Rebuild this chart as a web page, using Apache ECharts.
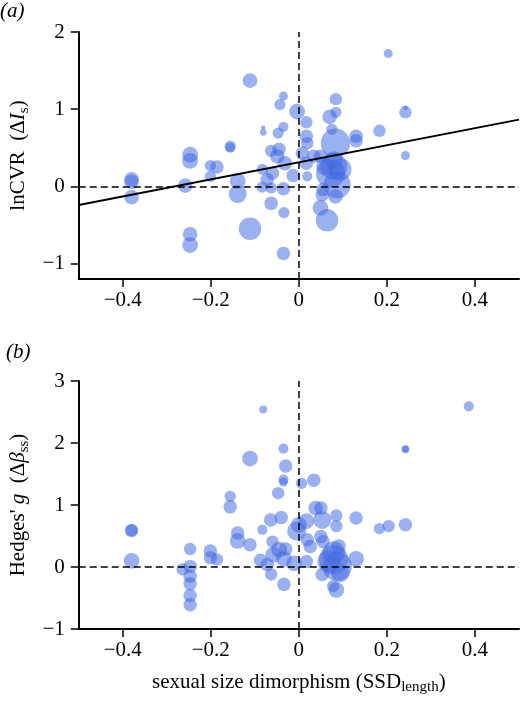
<!DOCTYPE html>
<html><head><meta charset="utf-8">
<script src="https://cdn.jsdelivr.net/npm/echarts@6/dist/echarts.min.js"></script>
<style>html,body{margin:0;padding:0;background:#fff}#c{width:520px;height:702px}</style>
</head><body><div id="c"></div>
<script>
// Panel (a): lnCVR vs SSD
var aX = [0.203,-0.111,-0.035,-0.043,-0.004,0.084,0.084,0.070,0.242,0.242,0.017,-0.035,-0.047,-0.081,-0.081,0.075,0.183,0.083,0.130,0.130,0.242,0.017,0.019,-0.156,-0.156,-0.247,-0.247,-0.201,-0.186,-0.201,-0.063,-0.045,-0.049,-0.032,-0.083,-0.060,-0.139,-0.139,-0.258,-0.380,-0.380,-0.380,-0.247,-0.247,-0.111,-0.035,-0.034,-0.063,-0.083,-0.063,-0.035,-0.072,-0.013,0.008,0.019,0.034,0.017,0.079,0.072,0.087,0.083,0.053,0.049,0.064,0.055,0.049,0.060,0.094,0.079];
var aY = [1.72,1.37,1.17,1.06,0.97,1.13,0.96,0.90,0.96,1.02,0.83,0.77,0.69,0.76,0.70,0.74,0.72,0.56,0.65,0.59,0.40,0.65,0.56,0.52,0.50,0.41,0.33,0.27,0.25,0.13,0.46,0.48,0.39,0.30,0.22,0.17,0.07,-0.10,0.01,0.09,0.06,-0.14,-0.62,-0.76,-0.55,-0.87,-0.34,-0.22,-0.01,-0.02,-0.03,0.09,0.14,0.43,0.13,0.39,0.30,0.26,0.17,0.02,-0.13,-0.11,-0.28,-0.44,-0.04,0.39,0.26,0.22,0.34];
var aW = [4,6.5,4,5,7,5.5,5,6.5,5.5,2,5.5,4.5,5,2,3,5,5.5,13,6,6,4,6,5.5,5,4.5,7,7,5,6,5,5.5,6,6.5,6.5,5,6,7,8,6.5,6.5,6.5,6.5,6.5,7,10,6,5,6,5,5,6,6,6,6,4.5,6,6,12,13,12,6.5,6,7,10,6,6,8,10,8];
// regression line for panel (a)
var fitX = [-0.5, 0.5];
var fitY = [-0.24, 0.865];

// Panel (b): Hedges' g vs SSD
var bX = [-0.081,0.386,0.242,0.242,-0.035,-0.111,-0.030,-0.035,-0.035,0.006,0.034,-0.047,-0.156,-0.156,0.038,0.050,0.085,0.130,-0.040,-0.064,0.017,0.242,0.204,0.183,0.085,0.053,0.000,-0.005,-0.083,-0.380,-0.380,-0.139,-0.139,-0.111,0.050,0.019,0.026,0.055,-0.060,-0.045,-0.030,-0.058,-0.034,-0.247,-0.201,-0.201,-0.186,-0.380,-0.087,-0.072,-0.011,0.017,0.130,0.079,0.087,0.068,0.079,0.090,0.053,0.078,0.085,-0.034,-0.063,-0.264,-0.247,-0.247,-0.247,-0.247,-0.247,0.094];
var bY = [2.54,2.59,1.90,1.90,1.91,1.75,1.63,1.41,1.37,1.35,1.40,1.19,1.14,0.97,0.95,0.95,0.83,0.79,0.80,0.76,0.74,0.68,0.66,0.62,0.66,0.76,0.68,0.58,0.60,0.59,0.59,0.55,0.42,0.36,0.49,0.44,0.33,0.41,0.41,0.28,0.29,0.20,0.13,0.29,0.26,0.15,0.12,0.10,0.11,0.04,0.06,0.09,0.13,0.12,0.01,0.09,0.23,0.33,-0.12,-0.31,-0.37,-0.28,-0.12,-0.04,0.01,-0.15,-0.27,-0.46,-0.61,-0.10];
var bW = [3.5,4.5,3.5,3,4.5,7,6,4.5,4,5,6,5.5,5,6,6.5,6,5.5,6,6,6,7,6,5.5,5,5.5,8,7,8.5,4.5,6,5.5,6,7,6,6,6,6,6,5.5,7,6,7,7,5.5,6,6,5.5,7,6,6,7,6,7,13,13,10,10,6.5,6,5.5,7,6,5.5,5.5,6,6,6,6,6,8];

var xTicks = [-0.4,-0.2,0,0.2,0.4];
var aYTicks = [-1,0,1,2];
var bYTicks = [-1,0,1,2,3];

function zip(x,y,w){var r=[];for(var i=0;i<x.length;i++)r.push([x[i],y[i],w[i]]);return r;}
function minus(v){return String(v).replace('-','\u2212');}
var serif = 'Liberation Serif';
var FS = 21;
var bubble = {color:'rgba(65,105,225,0.66)'};
function sz(v){return v[2]*2.25;}
var dashed = {type:[7,4],color:'#000',width:1.5};
function mkLine(){return {silent:true,symbol:'none',label:{show:false},lineStyle:dashed,data:[{xAxis:0},{yAxis:0}],animation:false};}

function xAxisCfg(idx, name){
  return {gridIndex:idx,type:'value',min:-0.5,max:0.5,
    axisLine:{show:true,onZero:false,lineStyle:{color:'#000',width:2}},
    axisTick:{show:true,length:8,customValues:xTicks,lineStyle:{color:'#000',width:1.5}},
    axisLabel:{customValues:xTicks,formatter:minus,color:'#000',fontFamily:serif,fontSize:FS,margin:11},
    splitLine:{show:false},
    name:name||'',nameLocation:'middle',nameGap:40,
    nameTextStyle:{color:'#000',fontFamily:serif,fontSize:FS,
      rich:{t:{fontFamily:serif,fontSize:FS,color:'#000'},s:{fontFamily:serif,fontSize:15,color:'#000',padding:[11,0,0,0]}}}};
}
function yAxisCfg(idx,min,max,ticks,name,gap,rich){
  return {gridIndex:idx,type:'value',min:min,max:max,
    axisLine:{show:true,onZero:false,lineStyle:{color:'#000',width:2}},
    axisTick:{show:true,length:8,customValues:ticks,lineStyle:{color:'#000',width:1.5}},
    axisLabel:{customValues:ticks,formatter:minus,color:'#000',fontFamily:serif,fontSize:FS,margin:14},
    splitLine:{show:false},
    name:name,nameLocation:'middle',nameGap:gap,nameRotate:90,
    nameTextStyle:{color:'#000',fontFamily:serif,fontSize:FS,rich:rich}};
}
var richY = {
  t:{fontFamily:serif,fontSize:FS,color:'#000'},
  i:{fontFamily:serif,fontSize:FS,fontStyle:'italic',color:'#000'},
  s:{fontFamily:serif,fontSize:15,color:'#000',padding:[11,0,0,0]}
};

var chart = echarts.init(document.getElementById('c'),null,{renderer:'canvas'});
chart.setOption({
  animation:false,
  backgroundColor:'#fff',
  graphic:[
    {type:'text',left:0,top:1,style:{text:'(a)',font:'italic 21px "Liberation Serif"',fill:'#000'}},
    {type:'text',left:6,top:342,style:{text:'(b)',font:'italic 21px "Liberation Serif"',fill:'#000'}}
  ],
  grid:[
    {left:77,right:1,top:32,height:247},
    {left:77,right:1,top:381,height:248}
  ],
  xAxis:[xAxisCfg(0), xAxisCfg(1,'{t|sexual size dimorphism (SSD}{s|length}{t|)}')],
  yAxis:[
    yAxisCfg(0,-1.2,2,aYTicks,'{t|lnCVR  (Δ}{i|I}{s|s}{t|)}',41,richY),
    yAxisCfg(1,-1,3,bYTicks,"{t|Hedges' }{i|g}{t|  (Δ}{i|β}{s|ss}{t|)}",46,richY)
  ],
  series:[
    {type:'scatter',xAxisIndex:0,yAxisIndex:0,data:zip(aX,aY,aW),symbolSize:sz,itemStyle:bubble,markLine:mkLine(),z:2},
    {type:'line',xAxisIndex:0,yAxisIndex:0,data:[[fitX[0],fitY[0]],[fitX[1],fitY[1]]],symbol:'none',lineStyle:{color:'#000',width:2},z:3},
    {type:'scatter',xAxisIndex:1,yAxisIndex:1,data:zip(bX,bY,bW),symbolSize:sz,itemStyle:bubble,markLine:mkLine(),z:2}
  ]
});
</script></body></html>
